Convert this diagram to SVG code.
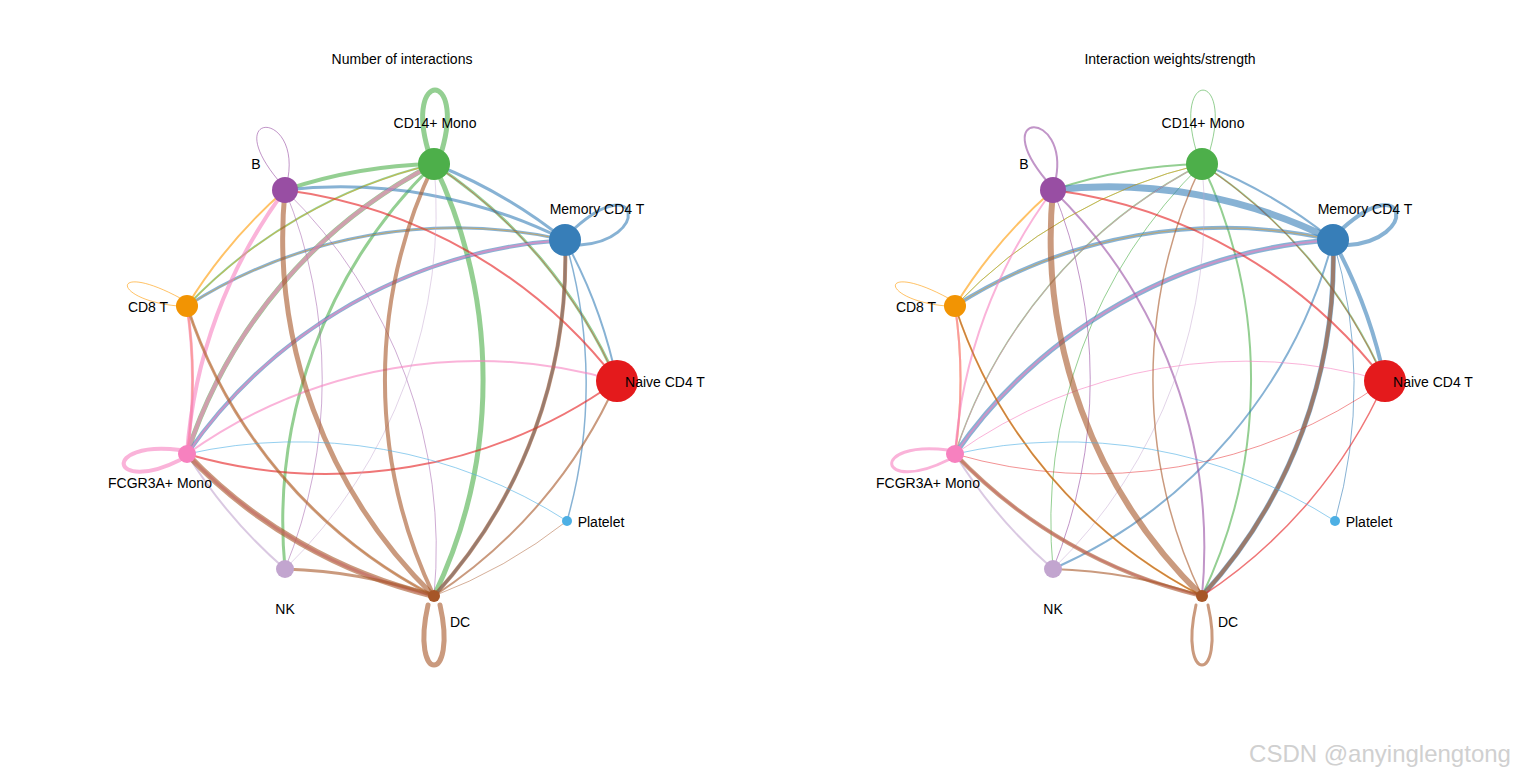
<svg xmlns="http://www.w3.org/2000/svg" width="1536" height="781" viewBox="0 0 1536 781">
<style>
text{font-family:"Liberation Sans",Arial,sans-serif;font-size:14px;fill:#000}
path{fill:none;stroke-opacity:.6;stroke-linecap:round}
.g{stroke:#4DAF4A}.b{stroke:#377EB8}.r{stroke:#E41A1C}.p{stroke:#984EA3}.o{stroke:#FF9900}.k{stroke:#F781BF}.n{stroke:#C2A5CF}.d{stroke:#A65628}.l{stroke:#4DAFE4}
</style>
<rect width="1536" height="781" fill="#fff"/>
<text x="402" y="64" text-anchor="middle">Number of interactions</text>
<text x="1170" y="64" text-anchor="middle">Interaction weights/strength</text>
<g id="connectors">
<!-- left -->
<path class="g" stroke-width="5" d="M428 150 C405 70 465 70 442 150"/>
<path class="p" stroke-width="1" d="M278 180 C220 110 300 110 288 178"/>
<path class="b" stroke-width="3" d="M575 228 C640 170 650 240 580 245"/>
<path class="o" stroke-width="1" d="M180 298 C110 260 110 300 178 306"/>
<path class="k" stroke-width="4" d="M180 450 C100 440 110 495 180 460"/>
<path class="d" stroke-width="5" d="M428 605 C410 685 458 685 440 605"/>
<path class="g" stroke-width="4" d="M434 164 A500 500 0 0 0 285 190"/>
<path class="g" stroke-width="2" d="M434 164 A500 500 0 0 0 187 306"/>
<path class="g" stroke-width="5" d="M434 164 A500 500 0 0 0 187 454"/>
<path class="g" stroke-width="3" d="M434 164 A500 500 0 0 0 285 569"/>
<path class="g" stroke-width="5" d="M434 164 A500 500 0 0 1 434 596"/>
<path class="g" stroke-width="3" d="M434 164 A500 500 0 0 1 617 381"/>
<path class="b" stroke-width="3" d="M565 240 A500 500 0 0 0 434 164"/>
<path class="b" stroke-width="3" d="M565 240 A500 500 0 0 0 285 190"/>
<path class="b" stroke-width="3" d="M565 240 A500 500 0 0 0 187 306"/>
<path class="b" stroke-width="4" d="M565 240 A500 500 0 0 0 187 454"/>
<path class="b" stroke-width="3" d="M565 240 A500 500 0 0 1 434 596"/>
<path class="b" stroke-width="1.5" d="M565 240 A500 500 0 0 1 567 521"/>
<path class="b" stroke-width="2" d="M565 240 A500 500 0 0 1 617 381"/>
<path class="r" stroke-width="2" d="M617 381 A500 500 0 0 0 285 190"/>
<path class="r" stroke-width="2" d="M617 381 A500 500 0 0 1 187 454"/>
<path class="r" stroke-width="0.8" d="M617 381 A500 500 0 0 0 434 164"/>
<path class="p" stroke-width="0.8" d="M285 190 A500 500 0 0 1 285 569"/>
<path class="p" stroke-width="0.8" d="M285 190 A500 500 0 0 1 434 596"/>
<path class="o" stroke-width="2" d="M187 306 A500 500 0 0 1 285 190"/>
<path class="o" stroke-width="0.8" d="M187 306 A500 500 0 0 1 434 164"/>
<path class="o" stroke-width="0.8" d="M187 306 A500 500 0 0 1 565 240"/>
<path class="o" stroke-width="0.8" d="M187 306 A500 500 0 0 0 434 596"/>
<path class="o" stroke-width="2" d="M187 306 A500 500 0 0 1 187 454"/>
<path class="k" stroke-width="4" d="M187 454 A500 500 0 0 1 285 190"/>
<path class="k" stroke-width="4" d="M187 454 A500 500 0 0 1 434 164"/>
<path class="k" stroke-width="3" d="M187 454 A500 500 0 0 0 187 306"/>
<path class="k" stroke-width="2" d="M187 454 A500 500 0 0 1 565 240"/>
<path class="k" stroke-width="2" d="M187 454 A500 500 0 0 1 617 381"/>
<path class="k" stroke-width="3" d="M187 454 A500 500 0 0 0 434 596"/>
<path class="n" stroke-width="2" d="M285 569 A500 500 0 0 1 187 454"/>
<path class="n" stroke-width="0.8" d="M285 569 A500 500 0 0 0 434 164"/>
<path class="d" stroke-width="6" d="M434 596 A500 500 0 0 1 187 454"/>
<path class="d" stroke-width="5" d="M434 596 A500 500 0 0 1 285 190"/>
<path class="d" stroke-width="4" d="M434 596 A500 500 0 0 1 434 164"/>
<path class="d" stroke-width="4" d="M434 596 A500 500 0 0 0 565 240"/>
<path class="d" stroke-width="3" d="M434 596 A500 500 0 0 0 285 569"/>
<path class="d" stroke-width="3" d="M434 596 A500 500 0 0 1 187 306"/>
<path class="d" stroke-width="2" d="M434 596 A500 500 0 0 0 617 381"/>
<path class="d" stroke-width="0.8" d="M434 596 A500 500 0 0 0 567 521"/>
<path class="l" stroke-width="1" d="M567 521 A500 500 0 0 0 187 454"/>
<!-- right -->
<path class="g" stroke-width="1" d="M1196 150 C1173 70 1233 70 1210 150"/>
<path class="p" stroke-width="2" d="M1046 180 C988 110 1068 110 1056 178"/>
<path class="b" stroke-width="4" d="M1343 228 C1408 170 1418 240 1348 245"/>
<path class="o" stroke-width="1" d="M948 298 C878 260 878 300 946 306"/>
<path class="k" stroke-width="3" d="M948 450 C868 440 878 495 948 460"/>
<path class="d" stroke-width="3" d="M1196 605 C1178 685 1226 685 1208 605"/>
<path class="g" stroke-width="2" d="M1202 164 A500 500 0 0 0 1053 190"/>
<path class="g" stroke-width="1" d="M1202 164 A500 500 0 0 0 955 306"/>
<path class="g" stroke-width="1.5" d="M1202 164 A500 500 0 0 0 955 454"/>
<path class="g" stroke-width="1" d="M1202 164 A500 500 0 0 0 1053 569"/>
<path class="g" stroke-width="2" d="M1202 164 A500 500 0 0 1 1202 596"/>
<path class="g" stroke-width="2" d="M1202 164 A500 500 0 0 1 1385 381"/>
<path class="b" stroke-width="2" d="M1333 240 A500 500 0 0 0 1202 164"/>
<path class="b" stroke-width="7" d="M1333 240 A500 500 0 0 0 1053 190"/>
<path class="b" stroke-width="4" d="M1333 240 A500 500 0 0 0 955 306"/>
<path class="b" stroke-width="5" d="M1333 240 A500 500 0 0 0 955 454"/>
<path class="b" stroke-width="5" d="M1333 240 A500 500 0 0 1 1202 596"/>
<path class="b" stroke-width="2" d="M1333 240 A500 500 0 0 1 1053 569"/>
<path class="b" stroke-width="1" d="M1333 240 A500 500 0 0 1 1335 521"/>
<path class="b" stroke-width="4" d="M1333 240 A500 500 0 0 1 1385 381"/>
<path class="r" stroke-width="2" d="M1385 381 A500 500 0 0 0 1053 190"/>
<path class="r" stroke-width="0.8" d="M1385 381 A500 500 0 0 1 955 454"/>
<path class="r" stroke-width="0.8" d="M1385 381 A500 500 0 0 0 1202 164"/>
<path class="p" stroke-width="1" d="M1053 190 A500 500 0 0 1 1053 569"/>
<path class="p" stroke-width="2" d="M1053 190 A500 500 0 0 1 1202 596"/>
<path class="o" stroke-width="2" d="M955 306 A500 500 0 0 1 1053 190"/>
<path class="o" stroke-width="0.8" d="M955 306 A500 500 0 0 1 1202 164"/>
<path class="o" stroke-width="0.8" d="M955 306 A500 500 0 0 1 1333 240"/>
<path class="o" stroke-width="2" d="M955 306 A500 500 0 0 0 1202 596"/>
<path class="o" stroke-width="2" d="M955 306 A500 500 0 0 1 955 454"/>
<path class="k" stroke-width="2" d="M955 454 A500 500 0 0 1 1053 190"/>
<path class="k" stroke-width="1" d="M955 454 A500 500 0 0 1 1202 164"/>
<path class="k" stroke-width="2" d="M955 454 A500 500 0 0 0 955 306"/>
<path class="k" stroke-width="2" d="M955 454 A500 500 0 0 1 1333 240"/>
<path class="k" stroke-width="1" d="M955 454 A500 500 0 0 1 1385 381"/>
<path class="k" stroke-width="2" d="M955 454 A500 500 0 0 0 1202 596"/>
<path class="n" stroke-width="2" d="M1053 569 A500 500 0 0 1 955 454"/>
<path class="n" stroke-width="0.8" d="M1053 569 A500 500 0 0 0 1202 164"/>
<path class="d" stroke-width="4" d="M1202 596 A500 500 0 0 1 955 454"/>
<path class="d" stroke-width="6" d="M1202 596 A500 500 0 0 1 1053 190"/>
<path class="d" stroke-width="1.5" d="M1202 596 A500 500 0 0 1 1202 164"/>
<path class="d" stroke-width="4" d="M1202 596 A500 500 0 0 0 1333 240"/>
<path class="d" stroke-width="2" d="M1202 596 A500 500 0 0 0 1053 569"/>
<path class="d" stroke-width="1.5" d="M1202 596 A500 500 0 0 1 955 306"/>
<path class="r" stroke-width="1.5" d="M1202 596 A500 500 0 0 0 1385 381"/>
<path class="l" stroke-width="1" d="M1335 521 A500 500 0 0 0 955 454"/>
</g>
<g id="n-cd14"><circle cx="434" cy="164" r="16" fill="#4DAF4A"/><text x="435" y="128" text-anchor="middle">CD14+ Mono</text></g>
<g id="n-b"><circle cx="285" cy="190" r="13" fill="#984EA3"/><text x="256" y="169" text-anchor="middle">B</text></g>
<g id="n-mem"><circle cx="565" cy="240" r="16" fill="#377EB8"/><text x="597" y="214" text-anchor="middle">Memory CD4 T</text></g>
<g id="n-cd8"><circle cx="187" cy="306" r="11" fill="#F29403"/><text x="148" y="312" text-anchor="middle">CD8 T</text></g>
<g id="n-naive"><circle cx="617" cy="381" r="21" fill="#E41A1C"/><text x="665" y="387" text-anchor="middle">Naive CD4 T</text></g>
<g id="n-fcgr"><circle cx="187" cy="454" r="9" fill="#F781BF"/><text x="160" y="488" text-anchor="middle">FCGR3A+ Mono</text></g>
<g id="n-plt"><circle cx="567" cy="521" r="5" fill="#4DAFE4"/><text x="601" y="527" text-anchor="middle">Platelet</text></g>
<g id="n-nk"><circle cx="285" cy="569" r="9" fill="#C2A5CF"/><text x="285" y="614" text-anchor="middle">NK</text></g>
<g id="n-dc"><circle cx="434" cy="596" r="6" fill="#A65628"/><text x="460" y="627" text-anchor="middle">DC</text></g>
<g id="r-cd14"><circle cx="1202" cy="164" r="16" fill="#4DAF4A"/><text x="1203" y="128" text-anchor="middle">CD14+ Mono</text></g>
<g id="r-b"><circle cx="1053" cy="190" r="13" fill="#984EA3"/><text x="1024" y="169" text-anchor="middle">B</text></g>
<g id="r-mem"><circle cx="1333" cy="240" r="16" fill="#377EB8"/><text x="1365" y="214" text-anchor="middle">Memory CD4 T</text></g>
<g id="r-cd8"><circle cx="955" cy="306" r="11" fill="#F29403"/><text x="916" y="312" text-anchor="middle">CD8 T</text></g>
<g id="r-naive"><circle cx="1385" cy="381" r="21" fill="#E41A1C"/><text x="1433" y="387" text-anchor="middle">Naive CD4 T</text></g>
<g id="r-fcgr"><circle cx="955" cy="454" r="9" fill="#F781BF"/><text x="928" y="488" text-anchor="middle">FCGR3A+ Mono</text></g>
<g id="r-plt"><circle cx="1335" cy="521" r="5" fill="#4DAFE4"/><text x="1369" y="527" text-anchor="middle">Platelet</text></g>
<g id="r-nk"><circle cx="1053" cy="569" r="9" fill="#C2A5CF"/><text x="1053" y="614" text-anchor="middle">NK</text></g>
<g id="r-dc"><circle cx="1202" cy="596" r="6" fill="#A65628"/><text x="1228" y="627" text-anchor="middle">DC</text></g>
<text x="1380" y="762" text-anchor="middle" style="font-size:24px;fill:#d0d0d0">CSDN @anyinglengtong</text>
</svg>
